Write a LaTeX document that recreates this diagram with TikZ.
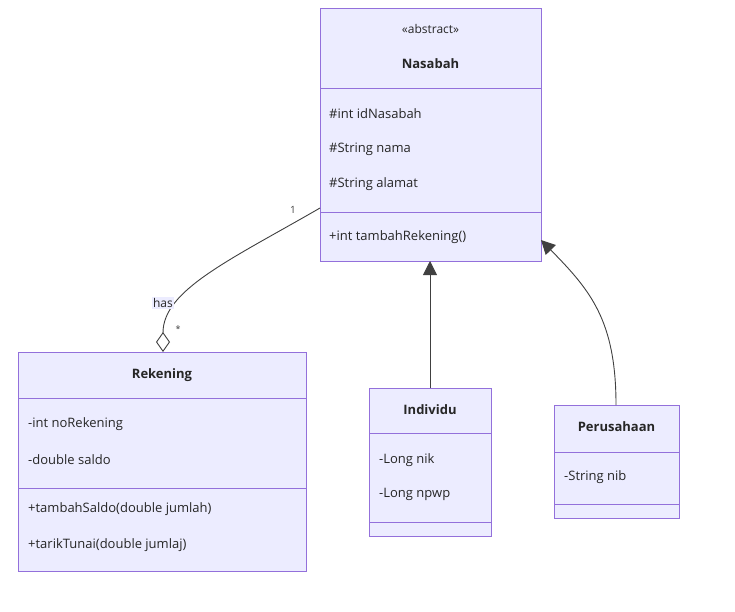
\documentclass[tikz,border=0pt]{standalone}
\usepackage{fontspec}
\setmainfont{Open Sans}
\usetikzlibrary{arrows.meta}
\definecolor{fillc}{HTML}{ECECFF}
\definecolor{linec}{HTML}{9370DB}
\tikzset{
  sec/.style={draw=linec, fill=fillc, line width=0.9pt},
  txt/.style={anchor=west, font=\fontsize{13}{15}\selectfont, text=black!85, inner sep=0},
  ttl/.style={font=\bfseries\fontsize{13}{15}\selectfont, text=black!85, inner sep=0},
  conn/.style={draw=black!75, line width=0.9pt},
  inh/.style={conn, -{Triangle[length=14pt,width=14pt,fill=black!75]}}
}
\begin{document}
\begin{tikzpicture}[x=1pt,y=-1pt]
\useasboundingbox (0,0) rectangle (735,611);
% Nasabah
\draw[sec] (320,8) rectangle (541,88);
\draw[sec] (320,88) rectangle (541,212);
\draw[sec] (320,212) rectangle (541,261);
\node[inner sep=0,font=\fontsize{12}{14}\selectfont,text=black!85] (nabs) at (430.5,29) {«abstract»};
\node[ttl] (nt) at (430.5,64) {Nasabah};
\node[txt] (n1) at (329,114) {\#int idNasabah};
\node[txt] (n2) at (329,149) {\#String nama};
\node[txt] (n3) at (329,184) {\#String alamat};
\node[txt] (n4) at (329,237) {+int tambahRekening()};
\coordinate (nas) at (320,208);
\coordinate (nasb) at (430,261);
\coordinate (nasr) at (541,240);
% Rekening
\draw[sec] (18,352) rectangle (306,398);
\draw[sec] (18,398) rectangle (306,488);
\draw[sec] (18,488) rectangle (306,571);
\node[ttl] (rt) at (162,375) {Rekening};
\node[txt] (r1) at (28,424) {-int noRekening};
\node[txt] (r2) at (28,460) {-double saldo};
\node[txt] (r3) at (28,509) {+tambahSaldo(double jumlah)};
\node[txt] (r4) at (28,545) {+tarikTunai(double jumlaj)};
\coordinate (rek) at (163,352);
% Individu
\draw[sec] (369,388) rectangle (491,433);
\draw[sec] (369,433) rectangle (491,522);
\draw[sec] (369,522) rectangle (491,536);
\node[ttl] (it) at (430,410) {Individu};
\node[txt] (i1) at (379,460) {-Long nik};
\node[txt] (i2) at (379,494) {-Long npwp};
\coordinate (ind) at (430,388);
% Perusahaan
\draw[sec] (554,405) rectangle (679,452);
\draw[sec] (554,452) rectangle (679,504);
\draw[sec] (554,504) rectangle (679,518);
\node[ttl] (pt) at (616.5,427) {Perusahaan};
\node[txt] (p1) at (564,477) {-String nib};
\coordinate (per) at (616,405);
% connectors
\draw[conn, -{Diamond[open,length=20pt,width=14pt,fill=white]}] (nas) .. controls (230,260) and (163,290) .. (rek);
\node[fill=fillc, inner sep=1pt, font=\fontsize{12}{14}\selectfont, text=black!85] (has) at (163,303) {has};
\node[font=\fontsize{10}{12}\selectfont, text=black!75, inner sep=0] (one) at (293,210) {1};
\node[font=\fontsize{9}{11}\selectfont, text=black!75, inner sep=0] (star) at (178,329) {*};
\draw[inh] (ind) -- (nasb);
\draw[inh] (per) .. controls (616,320) and (590,290) .. (nasr);
\end{tikzpicture}
\end{document}
